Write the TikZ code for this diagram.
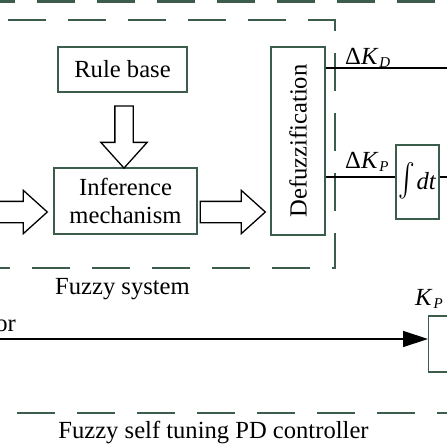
\documentclass[tikz,border=0pt]{standalone}
\usepackage{fontspec}
\setmainfont{Liberation Serif}
\usepackage{tikz}
\usetikzlibrary{shapes.arrows,arrows.meta,calc}
\definecolor{boxgreen}{RGB}{60,92,76}

\newcommand{\subtxt}[1]{\raisebox{-3pt}{\fontsize{15}{15}\selectfont\kern1pt\textit{#1}}}

\begin{document}
\begin{tikzpicture}[x=1pt, y=-1pt,
		font=\fontsize{24.6}{28}\selectfont,
		block/.style={draw=boxgreen, line width=1.4pt, inner sep=0pt, align=center},
		hollow/.style={single arrow, draw=black, line width=1.3pt, inner xsep=0pt, inner ysep=10pt, minimum width=42pt, single arrow head extend=11pt, single arrow tip angle=84},
		frame/.style={draw=boxgreen, line width=2pt, dash pattern=on 38pt off 22pt},
		wire/.style={draw=black, line width=1.3pt}]

		\useasboundingbox (0,0) rectangle (447,447);
		\clip (0,0) rectangle (447,447);

		\draw[frame, line width=2.4pt] (-23,1.5) -- (470,1.5);
		\draw[frame, line width=2.4pt] (-43,413) -- (470,413);
		\draw[frame] (-52,20) -- (335,20) -- (335,268) -- (-60,268);

		\node[block, minimum width=129pt, minimum height=45pt] (rule) at (122.5,69.5) {Rule base};
		\node[block, minimum width=143pt, minimum height=66pt] (infer) at (125.5,201) {Inference\\mechanism};
		\node[block, minimum width=54pt, minimum height=188pt] (defuz) at (298,141) {\rotatebox{90}{Defuzzification}};
		\node[block, minimum width=43pt, minimum height=74pt] (intg) at (417.5,182) {\raisebox{-4pt}{\scalebox{2.5}[3.3]{$\int$}}\kern1pt\raisebox{8pt}{\textit{dt}}};
		\node[block, minimum width=60pt, minimum height=56pt, anchor=west] (gain) at (428,344) {};

		\node[hollow, rotate=-90, minimum height=62pt, minimum width=45pt, inner ysep=8.5pt, single arrow head extend=14pt] (rdown) at ($(rule.south)!0.5!(infer.north)+(0,2)$) {};
		\node[hollow, minimum height=70pt, anchor=tip] (rin) at ($(infer.west)+(-5,11)$) {};
		\node[hollow, minimum height=65pt, anchor=tip] (rmid) at ($(defuz.west |- rin.tip)+(-4,0)$) {};

		\coordinate (kdend) at (470,68);
		\coordinate (kpend) at (470,177);
		\coordinate (errin) at (-10,339);
		\draw[wire] (defuz.east |- kdend) -- (kdend);
		\draw[wire] (defuz.east |- kpend) -- (intg.west |- kpend);
		\draw[wire] (intg.east |- kpend) -- (kpend);
		\draw[wire, -{Triangle[length=25pt, width=16pt]}] (errin) -- (errin -| gain.west);

		\node[anchor=base west, inner sep=0pt] (dkd) at (345,64) {Δ\textit{K}\subtxt{D}};
		\node[anchor=base west, inner sep=0pt] (dkp) at (345,168) {Δ\textit{K}\subtxt{P}};
		\node[anchor=base west, inner sep=0pt] (kp) at (415,305) {\textit{K}\subtxt{P}};
		\node[anchor=base east, inner sep=0pt] (err) at (16,331) {or};
		\node[anchor=base, inner sep=0pt] (fsys) at (122.5,294) {Fuzzy system};
		\node[anchor=base, inner sep=0pt] (fpd) at (213.5,438) {Fuzzy self tuning PD controller};

	\end{tikzpicture}
\end{document}
